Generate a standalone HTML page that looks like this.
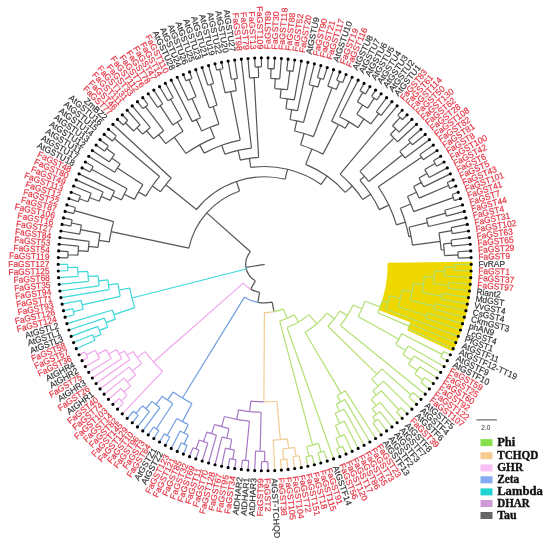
<!DOCTYPE html>
<html><head><meta charset="utf-8"><style>html,body{margin:0;padding:0;background:#fff}svg{display:block}</style></head>
<body>
<svg width="550" height="546" viewBox="0 0 550 546">
<rect width="550" height="546" fill="#fff"/>
<path d="M378.9 309.98A123 123 0 0 0 387.69 262.8L472.18 261.76A207.5 207.5 0 0 1 453.03 351.41L407.19 330.21A157 157 0 0 0 410.47 322.6Z" fill="#eed800"/>
<path fill="none" stroke="#555555" stroke-width="1.2" d="M264.7 264.3L245.96 267.43M245.96 267.43A19 19 0 0 1 250.49 251.69M250.49 251.69L206.72 212.87M206.72 212.87A77.5 77.5 0 0 0 188.89 248.18M188.89 248.18L111.13 231.65M111.13 231.65A157 157 0 0 0 109.32 241.81M109.32 241.81L98.93 240.31M98.93 240.31A167.5 167.5 0 0 0 98.06 247.38M98.06 247.38L88.61 246.42M88.61 246.42A177 177 0 0 0 88.17 251.41M88.17 251.41L78.2 250.68M78.2 250.68A187 187 0 0 0 77.92 255.22M77.92 255.22L67.93 254.73M67.93 254.73A197 197 0 0 0 67.8 257.92M67.8 257.92L58.31 257.61M67.93 254.73A197 197 0 0 1 68.11 251.55M68.11 251.55L58.63 250.93M78.2 250.68A187 187 0 0 1 78.58 246.16M78.58 246.16L59.17 244.27M88.61 246.42A177 177 0 0 1 89.18 241.43M89.18 241.43L59.93 237.62M98.93 240.31A167.5 167.5 0 0 1 100.1 233.29M100.1 233.29L80.54 229.6M80.54 229.6A187.4 187.4 0 0 0 79.75 234.09M79.75 234.09L60.9 231.01M80.54 229.6A187.4 187.4 0 0 1 81.44 225.14M81.44 225.14L71.46 223.01M71.46 223.01A197.6 197.6 0 0 0 70.82 226.14M70.82 226.14L62.09 224.42M71.46 223.01A197.6 197.6 0 0 1 72.16 219.88M72.16 219.88L63.48 217.88M111.13 231.65A157 157 0 0 1 113.61 221.62M113.61 221.62L74.54 210.59M74.54 210.59A197.6 197.6 0 0 0 73.7 213.67M73.7 213.67L65.09 211.39M74.54 210.59A197.6 197.6 0 0 1 75.44 207.51M75.44 207.51L66.91 204.96M206.72 212.87A77.5 77.5 0 0 1 239.66 190.96M239.66 190.96L236.43 181.49M236.43 181.49A87.5 87.5 0 0 0 196.48 209.5M196.48 209.5L165.69 184.77M165.69 184.77A127 127 0 0 0 160.5 191.7M160.5 191.7L152.29 185.98M152.29 185.98A137 137 0 0 0 145.86 196.14M145.86 196.14L138.49 191.91M138.49 191.91A145.5 145.5 0 0 0 134.49 199.38M134.49 199.38L124.2 194.24M124.2 194.24A157 157 0 0 0 121.54 199.84M121.54 199.84L112.42 195.74M112.42 195.74A167 167 0 0 0 110.41 200.39M110.41 200.39L101.17 196.57M101.17 196.57A177 177 0 0 0 99.32 201.23M99.32 201.23L89.51 197.48M89.51 197.48A187.5 187.5 0 0 0 87.94 201.76M87.94 201.76L79.36 198.72M79.36 198.72A196.6 196.6 0 0 0 78.32 201.73M78.32 201.73L68.94 198.58M79.36 198.72A196.6 196.6 0 0 1 80.45 195.73M80.45 195.73L71.17 192.28M89.51 197.48A187.5 187.5 0 0 1 91.18 193.25M91.18 193.25L73.6 186.05M101.17 196.57A177 177 0 0 1 103.16 191.96M103.16 191.96L76.23 179.9M112.42 195.74A167 167 0 0 1 114.58 191.15M114.58 191.15L79.07 173.84M124.2 194.24A157 157 0 0 1 127.07 188.75M127.07 188.75L91.57 169.27M91.57 169.27A197.5 197.5 0 0 0 90.05 172.08M90.05 172.08L82.09 167.88M91.57 169.27A197.5 197.5 0 0 1 93.13 166.47M93.13 166.47L85.31 162.02M138.49 191.91A145.5 145.5 0 0 1 142.91 184.69M142.91 184.69L117.38 168.01M117.38 168.01A176 176 0 0 0 114.71 172.22M114.71 172.22L88.72 156.26M117.38 168.01A176 176 0 0 1 120.17 163.87M120.17 163.87L111.95 158.16M111.95 158.16A186 186 0 0 0 109.42 161.9M109.42 161.9L92.31 150.62M111.95 158.16A186 186 0 0 1 114.58 154.49M114.58 154.49L106.51 148.58M106.51 148.58A196 196 0 0 0 104.65 151.16M104.65 151.16L96.08 145.1M106.51 148.58A196 196 0 0 1 108.4 146.03M108.4 146.03L100.03 139.7M152.29 185.98A137 137 0 0 1 159.59 176.43M159.59 176.43L114.33 138.58M114.33 138.58A196 196 0 0 0 112.31 141.04M112.31 141.04L104.15 134.43M114.33 138.58A196 196 0 0 1 116.38 136.17M116.38 136.17L108.44 129.3M165.69 184.77A127 127 0 0 1 171.34 178.21M171.34 178.21L112.89 124.31M236.43 181.49A87.5 87.5 0 0 1 285.16 179.23M285.16 179.23L287.57 169.21M287.57 169.21A97.8 97.8 0 0 0 250.74 167.5M250.74 167.5L249.42 158.4M249.42 158.4A107 107 0 0 0 240.32 160.11M240.32 160.11L238.04 150.38M238.04 150.38A117 117 0 0 0 224.98 154.25M224.98 154.25L221.72 145.22M221.72 145.22A126.6 126.6 0 0 0 204.18 153.1M204.18 153.1L199.68 144.85M199.68 144.85A136 136 0 0 0 185.86 153.49M185.86 153.49L174.26 137.19M174.26 137.19A156 156 0 0 0 165.86 143.61M165.86 143.61L158.57 134.71M158.57 134.71A167.5 167.5 0 0 0 153.67 138.89M153.67 138.89L146.44 130.73M146.44 130.73A178.4 178.4 0 0 0 142.7 134.13M142.7 134.13L136.82 127.86M136.82 127.86A187 187 0 0 0 133.55 131M133.55 131L125.41 122.74M125.41 122.74A198.6 198.6 0 0 0 123.14 125.01M123.14 125.01L117.5 119.47M125.41 122.74A198.6 198.6 0 0 1 127.72 120.5M127.72 120.5L122.27 114.78M136.82 127.86A187 187 0 0 1 140.17 124.79M140.17 124.79L127.19 110.25M146.44 130.73A178.4 178.4 0 0 1 150.27 127.43M150.27 127.43L132.25 105.87M158.57 134.71A167.5 167.5 0 0 1 163.63 130.73M163.63 130.73L145.41 106.65M145.41 106.65A197.7 197.7 0 0 0 142.87 108.6M142.87 108.6L137.45 101.67M145.41 106.65A197.7 197.7 0 0 1 147.98 104.73M147.98 104.73L142.78 97.63M174.26 137.19A156 156 0 0 1 183.08 131.35M183.08 131.35L177.33 121.98M177.33 121.98A167 167 0 0 0 172.76 124.88M172.76 124.88L160.1 105.68M160.1 105.68A190 190 0 0 0 157.55 107.4M157.55 107.4L148.24 93.77M160.1 105.68A190 190 0 0 1 162.69 104.01M162.69 104.01L153.83 90.09M177.33 121.98A167 167 0 0 1 181.98 119.23M181.98 119.23L170.59 99.24M170.59 99.24A190 190 0 0 0 167.93 100.79M167.93 100.79L159.53 86.59M170.59 99.24A190 190 0 0 1 173.27 97.74M173.27 97.74L165.34 83.28M199.68 144.85A136 136 0 0 1 214.44 137.93M214.44 137.93L210.19 127.24M210.19 127.24A147.5 147.5 0 0 0 201.7 130.93M201.7 130.93L196.36 119.63M196.36 119.63A160 160 0 0 0 192.29 121.62M192.29 121.62L171.25 80.16M196.36 119.63A160 160 0 0 1 200.49 117.75M200.49 117.75L192.06 98.51M192.06 98.51A181 181 0 0 0 188.06 100.33M188.06 100.33L177.26 77.23M192.06 98.51A181 181 0 0 1 196.11 96.8M196.11 96.8L189.1 79.68M189.1 79.68A199.5 199.5 0 0 0 186.12 80.93M186.12 80.93L183.36 74.49M189.1 79.68A199.5 199.5 0 0 1 192.1 78.48M192.1 78.48L189.55 71.96M210.19 127.24A147.5 147.5 0 0 1 218.89 124.09M218.89 124.09L213.15 106.51M213.15 106.51A166 166 0 0 0 209.33 107.81M209.33 107.81L195.82 69.63M213.15 106.51A166 166 0 0 1 217 105.3M217 105.3L210.67 84.23M210.67 84.23A188 188 0 0 0 207.76 85.13M207.76 85.13L202.16 67.5M210.67 84.23A188 188 0 0 1 213.6 83.38M213.6 83.38L208.57 65.58M221.72 145.22A126.6 126.6 0 0 1 240.25 140.08M240.25 140.08L230.71 91.61M230.71 91.61A176 176 0 0 0 225.14 92.8M225.14 92.8L219.74 69.42M219.74 69.42A200 200 0 0 0 216.6 70.17M216.6 70.17L215.03 63.86M219.74 69.42A200 200 0 0 1 222.91 68.72M222.91 68.72L221.55 62.36M230.71 91.61A176 176 0 0 1 236.32 90.6M236.32 90.6L234.39 78.76M234.39 78.76A188 188 0 0 0 231.39 79.27M231.39 79.27L228.11 61.07M234.39 78.76A188 188 0 0 1 237.4 78.29M237.4 78.29L234.71 59.99M238.04 150.38A117 117 0 0 1 251.47 148.05M251.47 148.05L241.34 59.13M249.42 158.4A107 107 0 0 1 258.64 157.47M258.64 157.47L254.11 77.6M254.11 77.6A187 187 0 0 0 249.58 77.91M249.58 77.91L248 58.48M254.11 77.6A187 187 0 0 1 258.64 77.4M258.64 77.4L258.3 66.9M258.3 66.9A197.5 197.5 0 0 0 255.11 67.03M255.11 67.03L254.67 58.04M258.3 66.9A197.5 197.5 0 0 1 261.5 66.83M261.5 66.83L261.36 57.83M287.57 169.21A97.8 97.8 0 0 1 321.15 184.44M321.15 184.44L327.04 176.11M327.04 176.11A108 108 0 0 0 305.66 164.37M305.66 164.37L311.96 149.01M311.96 149.01A124.6 124.6 0 0 0 300.6 144.98M300.6 144.98L304.06 133.49M304.06 133.49A136.6 136.6 0 0 0 294.53 131M294.53 131L296.8 120.85M296.8 120.85A147 147 0 0 0 290.01 119.5M290.01 119.5L291.74 109.65M291.74 109.65A157 157 0 0 0 285.93 108.74M285.93 108.74L287.28 98.83M287.28 98.83A167 167 0 0 0 280.23 98.02M280.23 98.02L281.06 89.06M281.06 89.06A176 176 0 0 0 274.67 88.58M274.67 88.58L275.24 78.6M275.24 78.6A186 186 0 0 0 270.72 78.4M270.72 78.4L271.04 68.7M271.04 68.7A195.7 195.7 0 0 0 267.87 68.63M267.87 68.63L268.04 57.83M271.04 68.7A195.7 195.7 0 0 1 274.2 68.83M274.2 68.83L274.73 58.04M275.24 78.6A186 186 0 0 1 279.74 78.91M279.74 78.91L281.4 58.48M281.06 89.06A176 176 0 0 1 287.44 89.77M287.44 89.77L289.89 70.93M289.89 70.93A195 195 0 0 0 286.76 70.55M286.76 70.55L288.06 59.13M289.89 70.93A195 195 0 0 1 293.02 71.37M293.02 71.37L294.69 59.99M287.28 98.83A167 167 0 0 1 294.29 99.94M294.29 99.94L301.29 61.07M291.74 109.65A157 157 0 0 1 297.51 110.77M297.51 110.77L307.85 62.36M296.8 120.85A147 147 0 0 1 303.51 122.52M303.51 122.52L313.55 85.86M313.55 85.86A185 185 0 0 0 309.2 84.73M309.2 84.73L314.37 63.86M313.55 85.86A185 185 0 0 1 317.86 87.1M317.86 87.1L320.45 78.48M320.45 78.48A194 194 0 0 0 317.44 77.61M317.44 77.61L320.83 65.58M320.45 78.48A194 194 0 0 1 323.45 79.41M323.45 79.41L327.24 67.5M304.06 133.49A136.6 136.6 0 0 1 313.38 136.67M313.38 136.67L332.05 87.71M332.05 87.71A189 189 0 0 0 327.74 86.12M327.74 86.12L333.58 69.63M332.05 87.71A189 189 0 0 1 336.32 89.4M336.32 89.4L339.58 81.44M339.58 81.44A197.6 197.6 0 0 0 336.61 80.25M336.61 80.25L339.85 71.96M339.58 81.44A197.6 197.6 0 0 1 342.53 82.67M342.53 82.67L346.04 74.49M311.96 149.01A124.6 124.6 0 0 1 322.88 154.12M322.88 154.12L338.47 124.58M338.47 124.58A158 158 0 0 0 331.6 121.16M331.6 121.16L352.14 77.23M338.47 124.58A158 158 0 0 1 345.17 128.33M345.17 128.33L348.99 121.87M348.99 121.87A165.5 165.5 0 0 0 339.6 116.72M339.6 116.72L358.15 80.16M348.99 121.87A165.5 165.5 0 0 1 358.03 127.63M358.03 127.63L363.96 118.96M363.96 118.96A176 176 0 0 0 356.78 114.31M356.78 114.31L362.54 104.94M362.54 104.94A187 187 0 0 0 357.32 101.85M357.32 101.85L362.77 92.3M362.77 92.3A198 198 0 0 0 359.97 90.73M359.97 90.73L364.06 83.28M362.77 92.3A198 198 0 0 1 365.55 93.91M365.55 93.91L369.87 86.59M362.54 104.94A187 187 0 0 1 367.65 108.19M367.65 108.19L374.25 98.17M374.25 98.17A199 199 0 0 0 371.55 96.42M371.55 96.42L375.57 90.09M374.25 98.17A199 199 0 0 1 376.93 99.96M376.93 99.96L381.16 93.77M363.96 118.96A176 176 0 0 1 370.9 123.95M370.9 123.95L378.74 113.58M378.74 113.58A189 189 0 0 0 376.29 111.76M376.29 111.76L386.62 97.63M378.74 113.58A189 189 0 0 1 381.17 115.45M381.17 115.45L391.95 101.67M327.04 176.11A108 108 0 0 1 345.24 192.35M345.24 192.35L352.32 186.02M352.32 186.02A117.5 117.5 0 0 0 340.07 174.15M340.07 174.15L397.15 105.87M352.32 186.02A117.5 117.5 0 0 1 362.73 199.53M362.73 199.53L370.66 194.29M370.66 194.29A127 127 0 0 0 359.96 180.31M359.96 180.31L364.46 176.34M364.46 176.34A133 133 0 0 0 359.88 171.4M359.88 171.4L394.02 138.09M394.02 138.09A180.7 180.7 0 0 0 390.39 134.47M390.39 134.47L395.81 128.87M395.81 128.87A188.5 188.5 0 0 0 392.49 125.72M392.49 125.72L400.01 117.56M400.01 117.56A199.6 199.6 0 0 0 397.62 115.39M397.62 115.39L402.21 110.25M400.01 117.56A199.6 199.6 0 0 1 402.37 119.78M402.37 119.78L407.13 114.78M395.81 128.87A188.5 188.5 0 0 1 399.06 132.09M399.06 132.09L411.9 119.47M394.02 138.09A180.7 180.7 0 0 1 397.54 141.8M397.54 141.8L416.51 124.31M364.46 176.34A133 133 0 0 1 368.78 181.5M368.78 181.5L402.43 154.73M402.43 154.73A176 176 0 0 0 399.73 151.41M399.73 151.41L410.47 142.43M410.47 142.43A190 190 0 0 0 408.48 140.09M408.48 140.09L420.96 129.3M410.47 142.43A190 190 0 0 1 412.42 144.81M412.42 144.81L425.25 134.43M402.43 154.73A176 176 0 0 1 405.05 158.1M405.05 158.1L429.37 139.7M370.66 194.29A127 127 0 0 1 379.33 209.62M379.33 209.62L388.8 205.1M388.8 205.1A137.5 137.5 0 0 0 378.25 186.76M378.25 186.76L421.6 157.15M421.6 157.15A190 190 0 0 0 419.85 154.62M419.85 154.62L433.32 145.1M421.6 157.15A190 190 0 0 1 423.32 159.7M423.32 159.7L437.09 150.62M388.8 205.1A137.5 137.5 0 0 1 396.42 224.85M396.42 224.85L405.33 222.18M405.33 222.18A146.8 146.8 0 0 0 400.38 208.26M400.38 208.26L410.73 203.98M410.73 203.98A158 158 0 0 0 407.43 196.53M407.43 196.53L416.46 192.24M416.46 192.24A168 168 0 0 0 413.58 186.46M413.58 186.46L421.38 182.38M421.38 182.38A176.8 176.8 0 0 1 423.63 186.85M423.63 186.85L450.33 173.84M421.38 182.38A176.8 176.8 0 0 0 418.99 177.97M418.99 177.97L427.02 173.48M427.02 173.48A186 186 0 0 1 429.18 177.45M429.18 177.45L447.31 167.88M427.02 173.48A186 186 0 0 0 424.77 169.57M424.77 169.57L435.09 163.45M435.09 163.45A198 198 0 0 0 433.44 160.71M433.44 160.71L440.68 156.26M435.09 163.45A198 198 0 0 1 436.7 166.23M436.7 166.23L444.09 162.02M416.46 192.24A168 168 0 0 1 419.12 198.13M419.12 198.13L448.53 185.52M448.53 185.52A200 200 0 0 0 447.23 182.56M447.23 182.56L453.17 179.9M448.53 185.52A200 200 0 0 1 449.78 188.51M449.78 188.51L455.8 186.05M410.73 203.98A158 158 0 0 1 413.65 211.6M413.65 211.6L453.25 197.59M453.25 197.59A200 200 0 0 0 452.14 194.55M452.14 194.55L458.23 192.28M453.25 197.59A200 200 0 0 1 454.3 200.65M454.3 200.65L460.46 198.58M405.33 222.18A146.8 146.8 0 0 1 408.85 236.54M408.85 236.54L411.01 236.12M411.01 236.12A149 149 0 0 0 409.03 227.29M409.03 227.29L427.44 222.57M427.44 222.57A168 168 0 0 0 426.37 218.63M426.37 218.63L445.62 213.2M445.62 213.2A188 188 0 0 0 444.77 210.27M444.77 210.27L462.49 204.96M445.62 213.2A188 188 0 0 1 446.42 216.13M446.42 216.13L464.31 211.39M427.44 222.57A168 168 0 0 1 428.4 226.54M428.4 226.54L465.92 217.88M411.01 236.12A149 149 0 0 1 412.45 245.05M412.45 245.05L440.22 241.43M440.22 241.43A177 177 0 0 0 438.9 232.94M438.9 232.94L451.69 230.63M451.69 230.63A190 190 0 0 0 451.12 227.61M451.12 227.61L467.31 224.42M451.69 230.63A190 190 0 0 1 452.21 233.67M452.21 233.67L468.5 231.01M440.22 241.43A177 177 0 0 1 441.12 249.98M441.12 249.98L444.11 249.74M444.11 249.74A180 180 0 0 0 443.54 243.94M443.54 243.94L451.49 243.03M451.49 243.03A188 188 0 0 0 451.12 240.01M451.12 240.01L469.47 237.62M451.49 243.03A188 188 0 0 1 451.81 246.06M451.81 246.06L470.23 244.27M444.11 249.74A180 180 0 0 1 444.49 255.56M444.49 255.56L458.07 254.9M458.07 254.9A193.6 193.6 0 0 0 457.89 251.77M457.89 251.77L470.77 250.93M458.07 254.9A193.6 193.6 0 0 1 458.2 258.03M458.2 258.03L471.09 257.61M245.96 267.43A19 19 0 0 0 255.35 280.84M255.35 280.84L250.67 289.11M250.67 289.11A28.5 28.5 0 0 0 259.64 292.35M259.64 292.35L257.84 302.29M257.84 302.29A38.6 38.6 0 0 0 272.15 302.17M272.15 302.17L274.02 311.69"/>
<path fill="none" stroke="#3fd8d8" stroke-width="1.2" d="M245.96 267.43A19 19 0 0 0 246.28 268.97M246.28 268.97L131.9 297.96M131.9 297.96A137 137 0 0 1 129.78 288.1M129.78 288.1L118.95 290.01M118.95 290.01A148 148 0 0 1 117.96 283.57M117.96 283.57L108.54 284.81M108.54 284.81A157.5 157.5 0 0 0 109.26 289.69M109.26 289.69L60.9 297.59M108.54 284.81A157.5 157.5 0 0 1 107.97 279.9M107.97 279.9L98.52 280.84M98.52 280.84A167 167 0 0 0 99.1 285.87M99.1 285.87L59.93 290.98M98.52 280.84A167 167 0 0 1 98.1 275.78M98.1 275.78L88.12 276.47M88.12 276.47A177 177 0 0 0 88.53 281.47M88.53 281.47L59.17 284.33M88.12 276.47A177 177 0 0 1 87.85 271.46M87.85 271.46L77.85 271.87M77.85 271.87A187 187 0 0 0 78.09 276.4M78.09 276.4L58.63 277.67M77.85 271.87A187 187 0 0 1 77.72 267.33M77.72 267.33L67.73 267.49M67.73 267.49A197 197 0 0 0 67.8 270.68M67.8 270.68L58.31 270.99M67.73 267.49A197 197 0 0 1 67.7 264.3M67.7 264.3L58.2 264.3M118.95 290.01A148 148 0 0 0 120.22 296.4M120.22 296.4L82.15 304.86M82.15 304.86A187 187 0 0 1 81.22 300.41M81.22 300.41L62.09 304.18M82.15 304.86A187 187 0 0 0 83.19 309.28M83.19 309.28L73.48 311.68M73.48 311.68A197 197 0 0 0 74.28 314.77M74.28 314.77L65.09 317.21M73.48 311.68A197 197 0 0 1 72.74 308.58M72.74 308.58L63.48 310.72M131.9 297.96A137 137 0 0 0 134.73 307.64M134.73 307.64L113.86 314.6M113.86 314.6A159 159 0 0 1 112.41 309.99M112.41 309.99L66.91 323.64M113.86 314.6A159 159 0 0 0 115.46 319.15M115.46 319.15L106.07 322.6M106.07 322.6A169 169 0 0 1 104.49 318.08M104.49 318.08L68.94 330.02M106.07 322.6A169 169 0 0 0 107.79 327.07M107.79 327.07L99.43 330.42M99.43 330.42A178 178 0 0 1 97.88 326.38M97.88 326.38L71.17 336.32M99.43 330.42A178 178 0 0 0 101.09 334.41M101.09 334.41L93.74 337.56M93.74 337.56A186 186 0 0 1 92.57 334.78M92.57 334.78L73.6 342.55M93.74 337.56A186 186 0 0 0 94.94 340.32M94.94 340.32L76.23 348.7"/>
<path fill="none" stroke="#f2a6ee" stroke-width="1.2" d="M250.67 289.11A28.5 28.5 0 0 1 243.28 283.1M243.28 283.1L153.47 361.93M153.47 361.93A148 148 0 0 0 162.62 371.46M162.62 371.46L122.27 413.82M153.47 361.93A148 148 0 0 1 145.2 351.62M145.2 351.62L137.13 357.52M137.13 357.52A158 158 0 0 0 141.66 363.42M141.66 363.42L132.31 370.95M132.31 370.95A170 170 0 0 1 129.13 366.88M129.13 366.88L100.03 388.9M132.31 370.95A170 170 0 0 0 135.61 374.92M135.61 374.92L127.26 382.07M127.26 382.07A181 181 0 0 1 123.98 378.13M123.98 378.13L104.15 394.17M127.26 382.07A181 181 0 0 0 130.65 385.92M130.65 385.92L123.98 391.97M123.98 391.97A190 190 0 0 1 120.92 388.51M120.92 388.51L108.44 399.3M123.98 391.97A190 190 0 0 0 127.13 395.35M127.13 395.35L121.33 400.87M121.33 400.87A198 198 0 0 1 119.14 398.53M119.14 398.53L112.89 404.29M121.33 400.87A198 198 0 0 0 123.56 403.17M123.56 403.17L117.5 409.13M137.13 357.52A158 158 0 0 1 132.89 351.41M132.89 351.41L127.05 355.27M127.05 355.27A165 165 0 0 0 129.97 359.55M129.97 359.55L96.08 383.5M127.05 355.27A165 165 0 0 1 124.26 350.91M124.26 350.91L119.15 354.06M119.15 354.06A171 171 0 0 0 121.94 358.44M121.94 358.44L92.31 377.98M119.15 354.06A171 171 0 0 1 116.49 349.6M116.49 349.6L108.69 354.09M108.69 354.09A180 180 0 0 0 111.3 358.47M111.3 358.47L88.72 372.34M108.69 354.09A180 180 0 0 1 106.21 349.63M106.21 349.63L97.41 354.37M97.41 354.37A190 190 0 0 0 99.64 358.41M99.64 358.41L85.31 366.58M97.41 354.37A190 190 0 0 1 95.27 350.28M95.27 350.28L86.35 354.81M86.35 354.81A200 200 0 0 0 87.84 357.69M87.84 357.69L82.09 360.72M86.35 354.81A200 200 0 0 1 84.91 351.91M84.91 351.91L79.07 354.76"/>
<path fill="none" stroke="#6f9de0" stroke-width="1.2" d="M257.84 302.29A38.6 38.6 0 0 1 244.47 297.18M244.47 297.18L182.42 398.01M182.42 398.01A157 157 0 0 0 191.96 403.43M191.96 403.43L182.46 421.6M182.46 421.6A177.5 177.5 0 0 1 176.78 418.5M176.78 418.5L167.12 435.44M167.12 435.44A197 197 0 0 0 169.91 436.99M169.91 436.99L165.34 445.32M167.12 435.44A197 197 0 0 1 164.36 433.83M164.36 433.83L159.53 442.01M182.46 421.6A177.5 177.5 0 0 0 188.24 424.49M188.24 424.49L184.15 433.06M184.15 433.06A187 187 0 0 1 180.07 431.06M180.07 431.06L171.25 448.44M184.15 433.06A187 187 0 0 0 188.27 434.97M188.27 434.97L184.18 444.1M184.18 444.1A197 197 0 0 0 187.11 445.38M187.11 445.38L183.36 454.11M184.18 444.1A197 197 0 0 1 181.28 442.77M181.28 442.77L177.26 451.37M182.42 398.01A157 157 0 0 1 173.29 391.95M173.29 391.95L167.47 400.08M167.47 400.08A167 167 0 0 1 162.32 396.24M162.32 396.24L155.89 404.53M155.89 404.53A177.5 177.5 0 0 0 159.9 407.56M159.9 407.56L142.78 430.97M155.89 404.53A177.5 177.5 0 0 1 151.96 401.4M151.96 401.4L145.92 408.73M145.92 408.73A187 187 0 0 0 149.47 411.58M149.47 411.58L137.45 426.93M145.92 408.73A187 187 0 0 1 142.45 405.81M142.45 405.81L135.91 413.37M135.91 413.37A197 197 0 0 0 138.34 415.44M138.34 415.44L132.25 422.73M135.91 413.37A197 197 0 0 1 133.51 411.27M133.51 411.27L127.19 418.35M167.47 400.08A167 167 0 0 0 172.76 403.72M172.76 403.72L156.25 428.76M156.25 428.76A197 197 0 0 0 158.93 430.5M158.93 430.5L153.83 438.51M156.25 428.76A197 197 0 0 1 153.6 426.98M153.6 426.98L148.24 434.83"/>
<path fill="none" stroke="#f0cc94" stroke-width="1.2" d="M274.02 311.69A48.3 48.3 0 0 1 264.41 312.6M264.41 312.6L263.87 401.8M263.87 401.8A137.5 137.5 0 0 0 276.93 401.25M276.93 401.25L280.35 439.6M280.35 439.6A176 176 0 0 1 273.25 440.09M273.25 440.09L274.73 470.56M280.35 439.6A176 176 0 0 0 287.44 438.83M287.44 438.83L288.66 448.25M288.66 448.25A185.5 185.5 0 0 1 282.7 448.93M282.7 448.93L283.71 459.38M283.71 459.38A196 196 0 0 0 286.87 459.04M286.87 459.04L288.06 469.47M283.71 459.38A196 196 0 0 1 280.55 459.66M280.55 459.66L281.4 470.12M288.66 448.25A185.5 185.5 0 0 0 294.61 447.37M294.61 447.37L296.06 456.26M296.06 456.26A194.5 194.5 0 0 0 299.16 455.72M299.16 455.72L301.29 467.53M296.06 456.26A194.5 194.5 0 0 1 292.95 456.74M292.95 456.74L294.69 468.61"/>
<path fill="none" stroke="#a678c6" stroke-width="1.2" d="M263.87 401.8A137.5 137.5 0 0 1 250.81 401.1M250.81 401.1L249.75 411.54M249.75 411.54A148 148 0 0 0 261.11 412.26M261.11 412.26L260.16 451.24M260.16 451.24A187 187 0 0 1 255.62 451.08M255.62 451.08L254.67 470.56M260.16 451.24A187 187 0 0 0 264.7 451.3M264.7 451.3L264.7 461.7M264.7 461.7A197.4 197.4 0 0 0 267.9 461.67M267.9 461.67L268.04 470.77M264.7 461.7A197.4 197.4 0 0 1 261.5 461.67M261.5 461.67L261.36 470.77M249.75 411.54A148 148 0 0 1 238.48 409.96M238.48 409.96L236.79 419.31M236.79 419.31A157.5 157.5 0 0 1 224.35 416.54M224.35 416.54L221.66 426.69M221.66 426.69A168 168 0 0 0 228.93 428.45M228.93 428.45L226.8 438.22M226.8 438.22A178 178 0 0 1 221.89 437.07M221.89 437.07L215.03 464.74M226.8 438.22A178 178 0 0 0 231.74 439.22M231.74 439.22L229.89 449.05M229.89 449.05A188 188 0 0 0 234.39 449.84M234.39 449.84L232.87 459.12M232.87 459.12A197.4 197.4 0 0 0 236.03 459.61M236.03 459.61L234.71 468.61M232.87 459.12A197.4 197.4 0 0 1 229.72 458.58M229.72 458.58L228.11 467.53M229.89 449.05A188 188 0 0 1 225.41 448.15M225.41 448.15L221.55 466.24M221.66 426.69A168 168 0 0 1 214.47 424.62M214.47 424.62L211.63 433.68M211.63 433.68A177.5 177.5 0 0 0 216.45 435.12M216.45 435.12L208.57 463.02M211.63 433.68A177.5 177.5 0 0 1 206.85 432.11M206.85 432.11L203.59 441.56M203.59 441.56A187.5 187.5 0 0 0 207.92 442.99M207.92 442.99L202.16 461.1M203.59 441.56A187.5 187.5 0 0 1 199.3 440.03M199.3 440.03L195.99 448.93M195.99 448.93A197 197 0 0 0 198.99 450.02M198.99 450.02L195.82 458.97M195.99 448.93A197 197 0 0 1 193.01 447.79M193.01 447.79L189.55 456.64M236.79 419.31A157.5 157.5 0 0 0 249.42 421.06M249.42 421.06L245.59 460.37M245.59 460.37A197 197 0 0 0 248.77 460.65M248.77 460.65L248 470.12M245.59 460.37A197 197 0 0 1 242.42 460.04M242.42 460.04L241.34 469.47"/>
<path fill="none" stroke="#b3e074" stroke-width="1.2" d="M274.02 311.69A48.3 48.3 0 0 0 283.27 308.89M283.27 308.89L287.19 318.3M287.19 318.3A58.5 58.5 0 0 1 279.69 320.85M279.69 320.85L312.61 445.06M312.61 445.06A187 187 0 0 1 306.73 446.51M306.73 446.51L308.98 456.26M308.98 456.26A197 197 0 0 0 312.08 455.52M312.08 455.52L314.37 464.74M308.98 456.26A197 197 0 0 1 305.87 456.95M305.87 456.95L307.85 466.24M312.61 445.06A187 187 0 0 0 318.44 443.41M318.44 443.41L321.03 452.03M321.03 452.03A196 196 0 0 0 324.06 451.1M324.06 451.1L327.24 461.1M321.03 452.03A196 196 0 0 1 317.98 452.92M317.98 452.92L320.83 463.02M287.19 318.3A58.5 58.5 0 0 0 294.28 314.77M294.28 314.77L298.58 322.1M298.58 322.1A67 67 0 0 1 287.05 327.46M287.05 327.46L333.58 458.97M298.58 322.1A67 67 0 0 0 308.89 314.66M308.89 314.66L316.81 323.68M316.81 323.68A79 79 0 0 1 304.97 332.27M304.97 332.27L341.16 393.35M341.16 393.35A150 150 0 0 0 345.24 390.84M345.24 390.84L375.57 438.51M341.16 393.35A150 150 0 0 1 337.01 395.72M337.01 395.72L340.39 401.85M340.39 401.85A157 157 0 0 0 344.66 399.41M344.66 399.41L369.87 442.01M340.39 401.85A157 157 0 0 1 336.03 404.16M336.03 404.16L339.67 411.29M339.67 411.29A165 165 0 0 0 344.1 408.94M344.1 408.94L364.06 445.32M339.67 411.29A165 165 0 0 1 335.17 413.49M335.17 413.49L339.87 423.44M339.87 423.44A176 176 0 0 0 344.35 421.25M344.35 421.25L358.15 448.44M339.87 423.44A176 176 0 0 1 335.33 425.51M335.33 425.51L340.15 436.5M340.15 436.5A188 188 0 0 0 344.31 434.61M344.31 434.61L352.14 451.37M340.15 436.5A188 188 0 0 1 335.94 438.28M335.94 438.28L339.73 447.53M339.73 447.53A198 198 0 0 0 342.69 446.29M342.69 446.29L346.04 454.11M339.73 447.53A198 198 0 0 1 336.75 448.72M336.75 448.72L339.85 456.64M316.81 323.68A79 79 0 0 0 326.86 313.06M326.86 313.06L334.33 318.92M334.33 318.92A88.5 88.5 0 0 1 327.94 326.21M327.94 326.21L376.89 374.13M376.89 374.13A157 157 0 0 0 381.83 368.85M381.83 368.85L410.92 394.82M410.92 394.82A196 196 0 0 0 413.02 392.43M413.02 392.43L420.96 399.3M410.92 394.82A196 196 0 0 1 408.79 397.17M408.79 397.17L416.51 404.29M376.89 374.13A157 157 0 0 1 371.71 379.18M371.71 379.18L378.19 386.13M378.19 386.13A166.5 166.5 0 0 0 383.38 381.08M383.38 381.08L411.9 409.13M378.19 386.13A166.5 166.5 0 0 1 372.78 390.95M372.78 390.95L376.35 395.14M376.35 395.14A172 172 0 0 0 381.3 390.75M381.3 390.75L398.93 409.86M398.93 409.86A198 198 0 0 0 401.27 407.67M401.27 407.67L407.13 413.82M398.93 409.86A198 198 0 0 1 396.55 412.01M396.55 412.01L402.21 418.35M376.35 395.14A172 172 0 0 1 371.24 399.33M371.24 399.33L376.19 405.61M376.19 405.61A180 180 0 0 0 380.15 402.4M380.15 402.4L397.15 422.73M376.19 405.61A180 180 0 0 1 372.15 408.71M372.15 408.71L376.32 414.33M376.32 414.33A187 187 0 0 0 379.93 411.58M379.93 411.58L391.95 426.93M376.32 414.33A187 187 0 0 1 372.65 417M372.65 417L375.53 421.08M375.53 421.08A192 192 0 0 0 378.06 419.26M378.06 419.26L386.62 430.97M375.53 421.08A192 192 0 0 1 372.98 422.85M372.98 422.85L381.16 434.83M334.33 318.92A88.5 88.5 0 0 0 339.89 310.98M339.89 310.98L347.36 315.62M347.36 315.62A97.3 97.3 0 0 1 340.35 325.49M340.35 325.49L425.25 394.17M347.36 315.62A97.3 97.3 0 0 0 353.1 304.96M353.1 304.96L361.91 309.01M361.91 309.01A107 107 0 0 1 358.13 316.45M358.13 316.45L398.82 339.16M398.82 339.16A153.6 153.6 0 0 0 401.67 333.81M401.67 333.81L442.16 354.36M442.16 354.36A199 199 0 0 0 443.59 351.47M443.59 351.47L450.33 354.76M442.16 354.36A199 199 0 0 1 440.67 357.22M440.67 357.22L447.31 360.72M398.82 339.16A153.6 153.6 0 0 1 395.76 344.4M395.76 344.4L405.49 350.34M405.49 350.34A165 165 0 0 0 408.04 346.03M408.04 346.03L444.09 366.58M405.49 350.34A165 165 0 0 1 402.81 354.58M402.81 354.58L411.18 360.05M411.18 360.05A175 175 0 0 0 413.84 355.86M413.84 355.86L440.68 372.34M411.18 360.05A175 175 0 0 1 408.41 364.16M408.41 364.16L417.45 370.44M417.45 370.44A186 186 0 0 0 419.98 366.7M419.98 366.7L437.09 377.98M417.45 370.44A186 186 0 0 1 414.82 374.11M414.82 374.11L422.89 380.02M422.89 380.02A196 196 0 0 0 424.75 377.44M424.75 377.44L433.32 383.5M422.89 380.02A196 196 0 0 1 421 382.57M421 382.57L429.37 388.9M361.91 309.01A107 107 0 0 0 365.1 301.3M365.1 301.3L380.11 306.83M380.11 306.83A123 123 0 0 0 382.16 300.81M382.16 300.81L387.89 302.59M387.89 302.59A129 129 0 0 0 389.8 295.77M389.8 295.77L400.47 298.45M400.47 298.45A140 140 0 0 0 402.31 290.08M402.31 290.08L412.13 291.92M412.13 291.92A150 150 0 0 0 413.48 283.38M413.48 283.38L423.4 284.65M423.4 284.65A160 160 0 0 0 424.23 276.6M424.23 276.6L434.2 277.36M434.2 277.36A170 170 0 0 0 434.56 271.18M434.56 271.18L444.55 271.59M444.55 271.59A180 180 0 0 0 444.68 267.21M444.68 267.21L454.68 267.38M454.68 267.38A190 190 0 0 0 454.7 264.3M454.7 264.3L471.2 264.3M454.68 267.38A190 190 0 0 1 454.6 270.45M454.6 270.45L471.09 270.99M444.55 271.59A180 180 0 0 1 444.32 275.95M444.32 275.95L470.77 277.67M434.2 277.36A170 170 0 0 1 433.61 283.53M433.61 283.53L448.51 285.23M448.51 285.23A185 185 0 0 0 448.83 282.25M448.83 282.25L470.23 284.33M448.51 285.23A185 185 0 0 1 448.15 288.2M448.15 288.2L469.47 290.98M423.4 284.65A160 160 0 0 1 422.17 292.65M422.17 292.65L441.85 296.19M441.85 296.19A180 180 0 0 0 442.35 293.32M442.35 293.32L468.5 297.59M441.85 296.19A180 180 0 0 1 441.31 299.06M441.31 299.06L467.31 304.18M412.13 291.92A150 150 0 0 1 410.3 300.38M410.3 300.38L434.56 306.39M434.56 306.39A175 175 0 0 0 435.22 303.64M435.22 303.64L465.92 310.72M434.56 306.39A175 175 0 0 1 433.86 309.14M433.86 309.14L464.31 317.21M400.47 298.45A140 140 0 0 1 398.13 306.7M398.13 306.7L426.72 315.78M426.72 315.78A170 170 0 0 0 427.53 313.15M427.53 313.15L462.49 323.64M426.72 315.78A170 170 0 0 1 425.86 318.4M425.86 318.4L460.46 330.02M387.89 302.59A129 129 0 0 1 385.6 309.29M385.6 309.29L458.23 336.32M380.11 306.83A123 123 0 0 1 377.76 312.75M377.76 312.75L409.01 326.14M409.01 326.14A157 157 0 0 0 409.99 323.79M409.99 323.79L455.8 342.55M409.01 326.14A157 157 0 0 1 407.99 328.47M407.99 328.47L453.17 348.7"/>
<path fill="#000" d="M469.6 264.3a1.6 1.6 0 1 0 3.2 0a1.6 1.6 0 1 0 -3.2 0M469.49 270.99a1.6 1.6 0 1 0 3.2 0a1.6 1.6 0 1 0 -3.2 0M469.17 277.67a1.6 1.6 0 1 0 3.2 0a1.6 1.6 0 1 0 -3.2 0M468.63 284.33a1.6 1.6 0 1 0 3.2 0a1.6 1.6 0 1 0 -3.2 0M467.87 290.98a1.6 1.6 0 1 0 3.2 0a1.6 1.6 0 1 0 -3.2 0M466.9 297.59a1.6 1.6 0 1 0 3.2 0a1.6 1.6 0 1 0 -3.2 0M465.71 304.18a1.6 1.6 0 1 0 3.2 0a1.6 1.6 0 1 0 -3.2 0M464.32 310.72a1.6 1.6 0 1 0 3.2 0a1.6 1.6 0 1 0 -3.2 0M462.71 317.21a1.6 1.6 0 1 0 3.2 0a1.6 1.6 0 1 0 -3.2 0M460.89 323.64a1.6 1.6 0 1 0 3.2 0a1.6 1.6 0 1 0 -3.2 0M458.86 330.02a1.6 1.6 0 1 0 3.2 0a1.6 1.6 0 1 0 -3.2 0M456.63 336.32a1.6 1.6 0 1 0 3.2 0a1.6 1.6 0 1 0 -3.2 0M454.2 342.55a1.6 1.6 0 1 0 3.2 0a1.6 1.6 0 1 0 -3.2 0M451.57 348.7a1.6 1.6 0 1 0 3.2 0a1.6 1.6 0 1 0 -3.2 0M448.73 354.76a1.6 1.6 0 1 0 3.2 0a1.6 1.6 0 1 0 -3.2 0M445.71 360.72a1.6 1.6 0 1 0 3.2 0a1.6 1.6 0 1 0 -3.2 0M442.49 366.58a1.6 1.6 0 1 0 3.2 0a1.6 1.6 0 1 0 -3.2 0M439.08 372.34a1.6 1.6 0 1 0 3.2 0a1.6 1.6 0 1 0 -3.2 0M435.49 377.98a1.6 1.6 0 1 0 3.2 0a1.6 1.6 0 1 0 -3.2 0M431.72 383.5a1.6 1.6 0 1 0 3.2 0a1.6 1.6 0 1 0 -3.2 0M427.77 388.9a1.6 1.6 0 1 0 3.2 0a1.6 1.6 0 1 0 -3.2 0M423.65 394.17a1.6 1.6 0 1 0 3.2 0a1.6 1.6 0 1 0 -3.2 0M419.36 399.3a1.6 1.6 0 1 0 3.2 0a1.6 1.6 0 1 0 -3.2 0M414.91 404.29a1.6 1.6 0 1 0 3.2 0a1.6 1.6 0 1 0 -3.2 0M410.3 409.13a1.6 1.6 0 1 0 3.2 0a1.6 1.6 0 1 0 -3.2 0M405.53 413.82a1.6 1.6 0 1 0 3.2 0a1.6 1.6 0 1 0 -3.2 0M400.61 418.35a1.6 1.6 0 1 0 3.2 0a1.6 1.6 0 1 0 -3.2 0M395.55 422.73a1.6 1.6 0 1 0 3.2 0a1.6 1.6 0 1 0 -3.2 0M390.35 426.93a1.6 1.6 0 1 0 3.2 0a1.6 1.6 0 1 0 -3.2 0M385.02 430.97a1.6 1.6 0 1 0 3.2 0a1.6 1.6 0 1 0 -3.2 0M379.56 434.83a1.6 1.6 0 1 0 3.2 0a1.6 1.6 0 1 0 -3.2 0M373.97 438.51a1.6 1.6 0 1 0 3.2 0a1.6 1.6 0 1 0 -3.2 0M368.27 442.01a1.6 1.6 0 1 0 3.2 0a1.6 1.6 0 1 0 -3.2 0M362.46 445.32a1.6 1.6 0 1 0 3.2 0a1.6 1.6 0 1 0 -3.2 0M356.55 448.44a1.6 1.6 0 1 0 3.2 0a1.6 1.6 0 1 0 -3.2 0M350.54 451.37a1.6 1.6 0 1 0 3.2 0a1.6 1.6 0 1 0 -3.2 0M344.44 454.11a1.6 1.6 0 1 0 3.2 0a1.6 1.6 0 1 0 -3.2 0M338.25 456.64a1.6 1.6 0 1 0 3.2 0a1.6 1.6 0 1 0 -3.2 0M331.98 458.97a1.6 1.6 0 1 0 3.2 0a1.6 1.6 0 1 0 -3.2 0M325.64 461.1a1.6 1.6 0 1 0 3.2 0a1.6 1.6 0 1 0 -3.2 0M319.23 463.02a1.6 1.6 0 1 0 3.2 0a1.6 1.6 0 1 0 -3.2 0M312.77 464.74a1.6 1.6 0 1 0 3.2 0a1.6 1.6 0 1 0 -3.2 0M306.25 466.24a1.6 1.6 0 1 0 3.2 0a1.6 1.6 0 1 0 -3.2 0M299.69 467.53a1.6 1.6 0 1 0 3.2 0a1.6 1.6 0 1 0 -3.2 0M293.09 468.61a1.6 1.6 0 1 0 3.2 0a1.6 1.6 0 1 0 -3.2 0M286.46 469.47a1.6 1.6 0 1 0 3.2 0a1.6 1.6 0 1 0 -3.2 0M279.8 470.12a1.6 1.6 0 1 0 3.2 0a1.6 1.6 0 1 0 -3.2 0M273.13 470.56a1.6 1.6 0 1 0 3.2 0a1.6 1.6 0 1 0 -3.2 0M266.44 470.77a1.6 1.6 0 1 0 3.2 0a1.6 1.6 0 1 0 -3.2 0M259.76 470.77a1.6 1.6 0 1 0 3.2 0a1.6 1.6 0 1 0 -3.2 0M253.07 470.56a1.6 1.6 0 1 0 3.2 0a1.6 1.6 0 1 0 -3.2 0M246.4 470.12a1.6 1.6 0 1 0 3.2 0a1.6 1.6 0 1 0 -3.2 0M239.74 469.47a1.6 1.6 0 1 0 3.2 0a1.6 1.6 0 1 0 -3.2 0M233.11 468.61a1.6 1.6 0 1 0 3.2 0a1.6 1.6 0 1 0 -3.2 0M226.51 467.53a1.6 1.6 0 1 0 3.2 0a1.6 1.6 0 1 0 -3.2 0M219.95 466.24a1.6 1.6 0 1 0 3.2 0a1.6 1.6 0 1 0 -3.2 0M213.43 464.74a1.6 1.6 0 1 0 3.2 0a1.6 1.6 0 1 0 -3.2 0M206.97 463.02a1.6 1.6 0 1 0 3.2 0a1.6 1.6 0 1 0 -3.2 0M200.56 461.1a1.6 1.6 0 1 0 3.2 0a1.6 1.6 0 1 0 -3.2 0M194.22 458.97a1.6 1.6 0 1 0 3.2 0a1.6 1.6 0 1 0 -3.2 0M187.95 456.64a1.6 1.6 0 1 0 3.2 0a1.6 1.6 0 1 0 -3.2 0M181.76 454.11a1.6 1.6 0 1 0 3.2 0a1.6 1.6 0 1 0 -3.2 0M175.66 451.37a1.6 1.6 0 1 0 3.2 0a1.6 1.6 0 1 0 -3.2 0M169.65 448.44a1.6 1.6 0 1 0 3.2 0a1.6 1.6 0 1 0 -3.2 0M163.74 445.32a1.6 1.6 0 1 0 3.2 0a1.6 1.6 0 1 0 -3.2 0M157.93 442.01a1.6 1.6 0 1 0 3.2 0a1.6 1.6 0 1 0 -3.2 0M152.23 438.51a1.6 1.6 0 1 0 3.2 0a1.6 1.6 0 1 0 -3.2 0M146.64 434.83a1.6 1.6 0 1 0 3.2 0a1.6 1.6 0 1 0 -3.2 0M141.18 430.97a1.6 1.6 0 1 0 3.2 0a1.6 1.6 0 1 0 -3.2 0M135.85 426.93a1.6 1.6 0 1 0 3.2 0a1.6 1.6 0 1 0 -3.2 0M130.65 422.73a1.6 1.6 0 1 0 3.2 0a1.6 1.6 0 1 0 -3.2 0M125.59 418.35a1.6 1.6 0 1 0 3.2 0a1.6 1.6 0 1 0 -3.2 0M120.67 413.82a1.6 1.6 0 1 0 3.2 0a1.6 1.6 0 1 0 -3.2 0M115.9 409.13a1.6 1.6 0 1 0 3.2 0a1.6 1.6 0 1 0 -3.2 0M111.29 404.29a1.6 1.6 0 1 0 3.2 0a1.6 1.6 0 1 0 -3.2 0M106.84 399.3a1.6 1.6 0 1 0 3.2 0a1.6 1.6 0 1 0 -3.2 0M102.55 394.17a1.6 1.6 0 1 0 3.2 0a1.6 1.6 0 1 0 -3.2 0M98.43 388.9a1.6 1.6 0 1 0 3.2 0a1.6 1.6 0 1 0 -3.2 0M94.48 383.5a1.6 1.6 0 1 0 3.2 0a1.6 1.6 0 1 0 -3.2 0M90.71 377.98a1.6 1.6 0 1 0 3.2 0a1.6 1.6 0 1 0 -3.2 0M87.12 372.34a1.6 1.6 0 1 0 3.2 0a1.6 1.6 0 1 0 -3.2 0M83.71 366.58a1.6 1.6 0 1 0 3.2 0a1.6 1.6 0 1 0 -3.2 0M80.49 360.72a1.6 1.6 0 1 0 3.2 0a1.6 1.6 0 1 0 -3.2 0M77.47 354.76a1.6 1.6 0 1 0 3.2 0a1.6 1.6 0 1 0 -3.2 0M74.63 348.7a1.6 1.6 0 1 0 3.2 0a1.6 1.6 0 1 0 -3.2 0M72 342.55a1.6 1.6 0 1 0 3.2 0a1.6 1.6 0 1 0 -3.2 0M69.57 336.32a1.6 1.6 0 1 0 3.2 0a1.6 1.6 0 1 0 -3.2 0M67.34 330.02a1.6 1.6 0 1 0 3.2 0a1.6 1.6 0 1 0 -3.2 0M65.31 323.64a1.6 1.6 0 1 0 3.2 0a1.6 1.6 0 1 0 -3.2 0M63.49 317.21a1.6 1.6 0 1 0 3.2 0a1.6 1.6 0 1 0 -3.2 0M61.88 310.72a1.6 1.6 0 1 0 3.2 0a1.6 1.6 0 1 0 -3.2 0M60.49 304.18a1.6 1.6 0 1 0 3.2 0a1.6 1.6 0 1 0 -3.2 0M59.3 297.59a1.6 1.6 0 1 0 3.2 0a1.6 1.6 0 1 0 -3.2 0M58.33 290.98a1.6 1.6 0 1 0 3.2 0a1.6 1.6 0 1 0 -3.2 0M57.57 284.33a1.6 1.6 0 1 0 3.2 0a1.6 1.6 0 1 0 -3.2 0M57.03 277.67a1.6 1.6 0 1 0 3.2 0a1.6 1.6 0 1 0 -3.2 0M56.71 270.99a1.6 1.6 0 1 0 3.2 0a1.6 1.6 0 1 0 -3.2 0M56.6 264.3a1.6 1.6 0 1 0 3.2 0a1.6 1.6 0 1 0 -3.2 0M56.71 257.61a1.6 1.6 0 1 0 3.2 0a1.6 1.6 0 1 0 -3.2 0M57.03 250.93a1.6 1.6 0 1 0 3.2 0a1.6 1.6 0 1 0 -3.2 0M57.57 244.27a1.6 1.6 0 1 0 3.2 0a1.6 1.6 0 1 0 -3.2 0M58.33 237.62a1.6 1.6 0 1 0 3.2 0a1.6 1.6 0 1 0 -3.2 0M59.3 231.01a1.6 1.6 0 1 0 3.2 0a1.6 1.6 0 1 0 -3.2 0M60.49 224.42a1.6 1.6 0 1 0 3.2 0a1.6 1.6 0 1 0 -3.2 0M61.88 217.88a1.6 1.6 0 1 0 3.2 0a1.6 1.6 0 1 0 -3.2 0M63.49 211.39a1.6 1.6 0 1 0 3.2 0a1.6 1.6 0 1 0 -3.2 0M65.31 204.96a1.6 1.6 0 1 0 3.2 0a1.6 1.6 0 1 0 -3.2 0M67.34 198.58a1.6 1.6 0 1 0 3.2 0a1.6 1.6 0 1 0 -3.2 0M69.57 192.28a1.6 1.6 0 1 0 3.2 0a1.6 1.6 0 1 0 -3.2 0M72 186.05a1.6 1.6 0 1 0 3.2 0a1.6 1.6 0 1 0 -3.2 0M74.63 179.9a1.6 1.6 0 1 0 3.2 0a1.6 1.6 0 1 0 -3.2 0M77.47 173.84a1.6 1.6 0 1 0 3.2 0a1.6 1.6 0 1 0 -3.2 0M80.49 167.88a1.6 1.6 0 1 0 3.2 0a1.6 1.6 0 1 0 -3.2 0M83.71 162.02a1.6 1.6 0 1 0 3.2 0a1.6 1.6 0 1 0 -3.2 0M87.12 156.26a1.6 1.6 0 1 0 3.2 0a1.6 1.6 0 1 0 -3.2 0M90.71 150.62a1.6 1.6 0 1 0 3.2 0a1.6 1.6 0 1 0 -3.2 0M94.48 145.1a1.6 1.6 0 1 0 3.2 0a1.6 1.6 0 1 0 -3.2 0M98.43 139.7a1.6 1.6 0 1 0 3.2 0a1.6 1.6 0 1 0 -3.2 0M102.55 134.43a1.6 1.6 0 1 0 3.2 0a1.6 1.6 0 1 0 -3.2 0M106.84 129.3a1.6 1.6 0 1 0 3.2 0a1.6 1.6 0 1 0 -3.2 0M111.29 124.31a1.6 1.6 0 1 0 3.2 0a1.6 1.6 0 1 0 -3.2 0M115.9 119.47a1.6 1.6 0 1 0 3.2 0a1.6 1.6 0 1 0 -3.2 0M120.67 114.78a1.6 1.6 0 1 0 3.2 0a1.6 1.6 0 1 0 -3.2 0M125.59 110.25a1.6 1.6 0 1 0 3.2 0a1.6 1.6 0 1 0 -3.2 0M130.65 105.87a1.6 1.6 0 1 0 3.2 0a1.6 1.6 0 1 0 -3.2 0M135.85 101.67a1.6 1.6 0 1 0 3.2 0a1.6 1.6 0 1 0 -3.2 0M141.18 97.63a1.6 1.6 0 1 0 3.2 0a1.6 1.6 0 1 0 -3.2 0M146.64 93.77a1.6 1.6 0 1 0 3.2 0a1.6 1.6 0 1 0 -3.2 0M152.23 90.09a1.6 1.6 0 1 0 3.2 0a1.6 1.6 0 1 0 -3.2 0M157.93 86.59a1.6 1.6 0 1 0 3.2 0a1.6 1.6 0 1 0 -3.2 0M163.74 83.28a1.6 1.6 0 1 0 3.2 0a1.6 1.6 0 1 0 -3.2 0M169.65 80.16a1.6 1.6 0 1 0 3.2 0a1.6 1.6 0 1 0 -3.2 0M175.66 77.23a1.6 1.6 0 1 0 3.2 0a1.6 1.6 0 1 0 -3.2 0M181.76 74.49a1.6 1.6 0 1 0 3.2 0a1.6 1.6 0 1 0 -3.2 0M187.95 71.96a1.6 1.6 0 1 0 3.2 0a1.6 1.6 0 1 0 -3.2 0M194.22 69.63a1.6 1.6 0 1 0 3.2 0a1.6 1.6 0 1 0 -3.2 0M200.56 67.5a1.6 1.6 0 1 0 3.2 0a1.6 1.6 0 1 0 -3.2 0M206.97 65.58a1.6 1.6 0 1 0 3.2 0a1.6 1.6 0 1 0 -3.2 0M213.43 63.86a1.6 1.6 0 1 0 3.2 0a1.6 1.6 0 1 0 -3.2 0M219.95 62.36a1.6 1.6 0 1 0 3.2 0a1.6 1.6 0 1 0 -3.2 0M226.51 61.07a1.6 1.6 0 1 0 3.2 0a1.6 1.6 0 1 0 -3.2 0M233.11 59.99a1.6 1.6 0 1 0 3.2 0a1.6 1.6 0 1 0 -3.2 0M239.74 59.13a1.6 1.6 0 1 0 3.2 0a1.6 1.6 0 1 0 -3.2 0M246.4 58.48a1.6 1.6 0 1 0 3.2 0a1.6 1.6 0 1 0 -3.2 0M253.07 58.04a1.6 1.6 0 1 0 3.2 0a1.6 1.6 0 1 0 -3.2 0M259.76 57.83a1.6 1.6 0 1 0 3.2 0a1.6 1.6 0 1 0 -3.2 0M266.44 57.83a1.6 1.6 0 1 0 3.2 0a1.6 1.6 0 1 0 -3.2 0M273.13 58.04a1.6 1.6 0 1 0 3.2 0a1.6 1.6 0 1 0 -3.2 0M279.8 58.48a1.6 1.6 0 1 0 3.2 0a1.6 1.6 0 1 0 -3.2 0M286.46 59.13a1.6 1.6 0 1 0 3.2 0a1.6 1.6 0 1 0 -3.2 0M293.09 59.99a1.6 1.6 0 1 0 3.2 0a1.6 1.6 0 1 0 -3.2 0M299.69 61.07a1.6 1.6 0 1 0 3.2 0a1.6 1.6 0 1 0 -3.2 0M306.25 62.36a1.6 1.6 0 1 0 3.2 0a1.6 1.6 0 1 0 -3.2 0M312.77 63.86a1.6 1.6 0 1 0 3.2 0a1.6 1.6 0 1 0 -3.2 0M319.23 65.58a1.6 1.6 0 1 0 3.2 0a1.6 1.6 0 1 0 -3.2 0M325.64 67.5a1.6 1.6 0 1 0 3.2 0a1.6 1.6 0 1 0 -3.2 0M331.98 69.63a1.6 1.6 0 1 0 3.2 0a1.6 1.6 0 1 0 -3.2 0M338.25 71.96a1.6 1.6 0 1 0 3.2 0a1.6 1.6 0 1 0 -3.2 0M344.44 74.49a1.6 1.6 0 1 0 3.2 0a1.6 1.6 0 1 0 -3.2 0M350.54 77.23a1.6 1.6 0 1 0 3.2 0a1.6 1.6 0 1 0 -3.2 0M356.55 80.16a1.6 1.6 0 1 0 3.2 0a1.6 1.6 0 1 0 -3.2 0M362.46 83.28a1.6 1.6 0 1 0 3.2 0a1.6 1.6 0 1 0 -3.2 0M368.27 86.59a1.6 1.6 0 1 0 3.2 0a1.6 1.6 0 1 0 -3.2 0M373.97 90.09a1.6 1.6 0 1 0 3.2 0a1.6 1.6 0 1 0 -3.2 0M379.56 93.77a1.6 1.6 0 1 0 3.2 0a1.6 1.6 0 1 0 -3.2 0M385.02 97.63a1.6 1.6 0 1 0 3.2 0a1.6 1.6 0 1 0 -3.2 0M390.35 101.67a1.6 1.6 0 1 0 3.2 0a1.6 1.6 0 1 0 -3.2 0M395.55 105.87a1.6 1.6 0 1 0 3.2 0a1.6 1.6 0 1 0 -3.2 0M400.61 110.25a1.6 1.6 0 1 0 3.2 0a1.6 1.6 0 1 0 -3.2 0M405.53 114.78a1.6 1.6 0 1 0 3.2 0a1.6 1.6 0 1 0 -3.2 0M410.3 119.47a1.6 1.6 0 1 0 3.2 0a1.6 1.6 0 1 0 -3.2 0M414.91 124.31a1.6 1.6 0 1 0 3.2 0a1.6 1.6 0 1 0 -3.2 0M419.36 129.3a1.6 1.6 0 1 0 3.2 0a1.6 1.6 0 1 0 -3.2 0M423.65 134.43a1.6 1.6 0 1 0 3.2 0a1.6 1.6 0 1 0 -3.2 0M427.77 139.7a1.6 1.6 0 1 0 3.2 0a1.6 1.6 0 1 0 -3.2 0M431.72 145.1a1.6 1.6 0 1 0 3.2 0a1.6 1.6 0 1 0 -3.2 0M435.49 150.62a1.6 1.6 0 1 0 3.2 0a1.6 1.6 0 1 0 -3.2 0M439.08 156.26a1.6 1.6 0 1 0 3.2 0a1.6 1.6 0 1 0 -3.2 0M442.49 162.02a1.6 1.6 0 1 0 3.2 0a1.6 1.6 0 1 0 -3.2 0M445.71 167.88a1.6 1.6 0 1 0 3.2 0a1.6 1.6 0 1 0 -3.2 0M448.73 173.84a1.6 1.6 0 1 0 3.2 0a1.6 1.6 0 1 0 -3.2 0M451.57 179.9a1.6 1.6 0 1 0 3.2 0a1.6 1.6 0 1 0 -3.2 0M454.2 186.05a1.6 1.6 0 1 0 3.2 0a1.6 1.6 0 1 0 -3.2 0M456.63 192.28a1.6 1.6 0 1 0 3.2 0a1.6 1.6 0 1 0 -3.2 0M458.86 198.58a1.6 1.6 0 1 0 3.2 0a1.6 1.6 0 1 0 -3.2 0M460.89 204.96a1.6 1.6 0 1 0 3.2 0a1.6 1.6 0 1 0 -3.2 0M462.71 211.39a1.6 1.6 0 1 0 3.2 0a1.6 1.6 0 1 0 -3.2 0M464.32 217.88a1.6 1.6 0 1 0 3.2 0a1.6 1.6 0 1 0 -3.2 0M465.71 224.42a1.6 1.6 0 1 0 3.2 0a1.6 1.6 0 1 0 -3.2 0M466.9 231.01a1.6 1.6 0 1 0 3.2 0a1.6 1.6 0 1 0 -3.2 0M467.87 237.62a1.6 1.6 0 1 0 3.2 0a1.6 1.6 0 1 0 -3.2 0M468.63 244.27a1.6 1.6 0 1 0 3.2 0a1.6 1.6 0 1 0 -3.2 0M469.17 250.93a1.6 1.6 0 1 0 3.2 0a1.6 1.6 0 1 0 -3.2 0M469.49 257.61a1.6 1.6 0 1 0 3.2 0a1.6 1.6 0 1 0 -3.2 0"/>
<g font-family="Liberation Sans, Arial, sans-serif" font-size="8.4" stroke-width="0.18">
<text dy="0.35em" fill="#333333" stroke="#333333" transform="translate(478.4 263.8) scale(1 1.05) rotate(0)">FvRAP</text>
<text dy="0.35em" fill="#e53443" stroke="#e53443" transform="translate(478.29 270.75) scale(1 1.05) rotate(1.77)">FaGST1</text>
<text dy="0.35em" fill="#e53443" stroke="#e53443" transform="translate(477.95 277.68) scale(1 1.05) rotate(3.54)">FaGST37</text>
<text dy="0.35em" fill="#e53443" stroke="#e53443" transform="translate(477.39 284.61) scale(1 1.05) rotate(5.3)">FaGST97</text>
<text dy="0.35em" fill="#333333" stroke="#333333" transform="translate(476.6 291.51) scale(1 1.05) rotate(7.07)">Riant2</text>
<text dy="0.35em" fill="#333333" stroke="#333333" transform="translate(475.59 298.38) scale(1 1.05) rotate(8.84)">MdGST</text>
<text dy="0.35em" fill="#333333" stroke="#333333" transform="translate(474.36 305.22) scale(1 1.05) rotate(10.62)">VvGST4</text>
<text dy="0.35em" fill="#333333" stroke="#333333" transform="translate(472.91 312.01) scale(1 1.05) rotate(12.39)">CsGST4</text>
<text dy="0.35em" fill="#333333" stroke="#333333" transform="translate(471.24 318.76) scale(1 1.05) rotate(14.17)">CkmGST3</text>
<text dy="0.35em" fill="#333333" stroke="#333333" transform="translate(469.35 325.44) scale(1 1.05) rotate(15.95)">phAN9</text>
<text dy="0.35em" fill="#333333" stroke="#333333" transform="translate(467.25 332.06) scale(1 1.05) rotate(17.73)">LcGST4</text>
<text dy="0.35em" fill="#333333" stroke="#333333" transform="translate(464.93 338.61) scale(1 1.05) rotate(19.52)">PfGST1</text>
<text dy="0.35em" fill="#333333" stroke="#333333" transform="translate(462.4 345.08) scale(1 1.05) rotate(21.3)">AtGSTF11</text>
<text dy="0.35em" fill="#333333" stroke="#333333" transform="translate(459.67 351.47) scale(1 1.05) rotate(23.1)">AtGSTF12-TT19</text>
<text dy="0.35em" fill="#333333" stroke="#333333" transform="translate(456.73 357.76) scale(1 1.05) rotate(24.9)">AtGSTF9</text>
<text dy="0.35em" fill="#333333" stroke="#333333" transform="translate(453.58 363.96) scale(1 1.05) rotate(26.7)">AtGSTF10</text>
<text dy="0.35em" fill="#e53443" stroke="#e53443" transform="translate(450.24 370.05) scale(1 1.05) rotate(28.5)">FaGST59</text>
<text dy="0.35em" fill="#e53443" stroke="#e53443" transform="translate(446.7 376.02) scale(1 1.05) rotate(30.31)">FaGST25</text>
<text dy="0.35em" fill="#e53443" stroke="#e53443" transform="translate(442.97 381.88) scale(1 1.05) rotate(32.13)">FaGST60</text>
<text dy="0.35em" fill="#e53443" stroke="#e53443" transform="translate(439.05 387.62) scale(1 1.05) rotate(33.95)">FaGST92</text>
<text dy="0.35em" fill="#e53443" stroke="#e53443" transform="translate(434.95 393.23) scale(1 1.05) rotate(35.78)">FaGST122</text>
<text dy="0.35em" fill="#e53443" stroke="#e53443" transform="translate(430.67 398.7) scale(1 1.05) rotate(37.61)">FaGST107</text>
<text dy="0.35em" fill="#333333" stroke="#333333" transform="translate(426.21 404.03) scale(1 1.05) rotate(39.45)">AtGSTF5</text>
<text dy="0.35em" fill="#333333" stroke="#333333" transform="translate(421.59 409.21) scale(1 1.05) rotate(41.29)">AtGSTF4</text>
<text dy="0.35em" fill="#333333" stroke="#333333" transform="translate(416.8 414.24) scale(1 1.05) rotate(43.14)">AtGSTF6</text>
<text dy="0.35em" fill="#e53443" stroke="#e53443" transform="translate(411.85 419.11) scale(1 1.05) rotate(44.99)">FaGST39</text>
<text dy="0.35em" fill="#333333" stroke="#333333" transform="translate(406.74 423.82) scale(1 1.05) rotate(46.86)">AtGSTF8</text>
<text dy="0.35em" fill="#333333" stroke="#333333" transform="translate(401.48 428.36) scale(1 1.05) rotate(48.72)">AtGSTF7</text>
<text dy="0.35em" fill="#333333" stroke="#333333" transform="translate(396.08 432.73) scale(1 1.05) rotate(50.59)">AtGSTF3</text>
<text dy="0.35em" fill="#333333" stroke="#333333" transform="translate(390.54 436.92) scale(1 1.05) rotate(52.47)">AtGSTF2</text>
<text dy="0.35em" fill="#333333" stroke="#333333" transform="translate(384.87 440.93) scale(1 1.05) rotate(54.36)">AtGSTF13</text>
<text dy="0.35em" fill="#e53443" stroke="#e53443" transform="translate(379.07 444.76) scale(1 1.05) rotate(56.25)">FaGST23</text>
<text dy="0.35em" fill="#e53443" stroke="#e53443" transform="translate(373.15 448.39) scale(1 1.05) rotate(58.14)">FaGST73</text>
<text dy="0.35em" fill="#e53443" stroke="#e53443" transform="translate(367.11 451.83) scale(1 1.05) rotate(60.04)">FaGST55</text>
<text dy="0.35em" fill="#e53443" stroke="#e53443" transform="translate(360.97 455.08) scale(1 1.05) rotate(61.95)">FaGST86</text>
<text dy="0.35em" fill="#e53443" stroke="#e53443" transform="translate(354.73 458.12) scale(1 1.05) rotate(63.86)">FaGST17</text>
<text dy="0.35em" fill="#e53443" stroke="#e53443" transform="translate(348.39 460.96) scale(1 1.05) rotate(65.78)">FaGST120</text>
<text dy="0.35em" fill="#e53443" stroke="#e53443" transform="translate(341.96 463.59) scale(1 1.05) rotate(67.7)">FaGST56</text>
<text dy="0.35em" fill="#333333" stroke="#333333" transform="translate(335.45 466.02) scale(1 1.05) rotate(69.62)">AtGSTF14</text>
<text dy="0.35em" fill="#e53443" stroke="#e53443" transform="translate(328.86 468.23) scale(1 1.05) rotate(71.55)">FaGST91</text>
<text dy="0.35em" fill="#e53443" stroke="#e53443" transform="translate(322.21 470.22) scale(1 1.05) rotate(73.48)">FaGST115</text>
<text dy="0.35em" fill="#e53443" stroke="#e53443" transform="translate(315.49 472) scale(1 1.05) rotate(75.42)">FaGST18</text>
<text dy="0.35em" fill="#e53443" stroke="#e53443" transform="translate(308.72 473.56) scale(1 1.05) rotate(77.35)">FaGST151</text>
<text dy="0.35em" fill="#e53443" stroke="#e53443" transform="translate(301.91 474.91) scale(1 1.05) rotate(79.3)">FaGST72</text>
<text dy="0.35em" fill="#e53443" stroke="#e53443" transform="translate(295.05 476.03) scale(1 1.05) rotate(81.24)">FaGST104</text>
<text dy="0.35em" fill="#e53443" stroke="#e53443" transform="translate(288.16 476.92) scale(1 1.05) rotate(83.18)">FaGST105</text>
<text dy="0.35em" fill="#e53443" stroke="#e53443" transform="translate(281.25 477.6) scale(1 1.05) rotate(85.13)">FaGST38</text>
<text dy="0.35em" fill="#333333" stroke="#333333" transform="translate(274.32 478.05) scale(1 1.05) rotate(87.08)">AtGST-TCHQD</text>
<text dy="0.35em" fill="#e53443" stroke="#e53443" transform="translate(267.37 478.27) scale(1 1.05) rotate(89.03)">FaGST2</text>
<text dy="0.35em" fill="#e53443" stroke="#e53443" text-anchor="end" transform="translate(260.43 478.27) scale(1 1.05) rotate(-89.03)">FaGST99</text>
<text dy="0.35em" fill="#333333" stroke="#333333" text-anchor="end" transform="translate(253.48 478.05) scale(1 1.05) rotate(-87.08)">AtDHAR3</text>
<text dy="0.35em" fill="#333333" stroke="#333333" text-anchor="end" transform="translate(246.55 477.6) scale(1 1.05) rotate(-85.13)">AtDHAR1</text>
<text dy="0.35em" fill="#333333" stroke="#333333" text-anchor="end" transform="translate(239.64 476.92) scale(1 1.05) rotate(-83.18)">AtDHAR2</text>
<text dy="0.35em" fill="#e53443" stroke="#e53443" text-anchor="end" transform="translate(232.75 476.03) scale(1 1.05) rotate(-81.24)">FaGST34</text>
<text dy="0.35em" fill="#e53443" stroke="#e53443" text-anchor="end" transform="translate(225.89 474.91) scale(1 1.05) rotate(-79.3)">FaGST95</text>
<text dy="0.35em" fill="#e53443" stroke="#e53443" text-anchor="end" transform="translate(219.08 473.56) scale(1 1.05) rotate(-77.35)">FaGST67</text>
<text dy="0.35em" fill="#e53443" stroke="#e53443" text-anchor="end" transform="translate(212.31 472) scale(1 1.05) rotate(-75.42)">FaGST128</text>
<text dy="0.35em" fill="#e53443" stroke="#e53443" text-anchor="end" transform="translate(205.59 470.22) scale(1 1.05) rotate(-73.48)">FaGST70</text>
<text dy="0.35em" fill="#e53443" stroke="#e53443" text-anchor="end" transform="translate(198.94 468.23) scale(1 1.05) rotate(-71.55)">FaGST11</text>
<text dy="0.35em" fill="#e53443" stroke="#e53443" text-anchor="end" transform="translate(192.35 466.02) scale(1 1.05) rotate(-69.62)">FaGST69</text>
<text dy="0.35em" fill="#e53443" stroke="#e53443" text-anchor="end" transform="translate(185.84 463.59) scale(1 1.05) rotate(-67.7)">FaGST32</text>
<text dy="0.35em" fill="#e53443" stroke="#e53443" text-anchor="end" transform="translate(179.41 460.96) scale(1 1.05) rotate(-65.78)">FaGST85</text>
<text dy="0.35em" fill="#e53443" stroke="#e53443" text-anchor="end" transform="translate(173.07 458.12) scale(1 1.05) rotate(-63.86)">FaGST121</text>
<text dy="0.35em" fill="#e53443" stroke="#e53443" text-anchor="end" transform="translate(166.83 455.08) scale(1 1.05) rotate(-61.95)">FaGST123</text>
<text dy="0.35em" fill="#333333" stroke="#333333" text-anchor="end" transform="translate(160.69 451.83) scale(1 1.05) rotate(-60.04)">AtGSTZ2</text>
<text dy="0.35em" fill="#333333" stroke="#333333" text-anchor="end" transform="translate(154.65 448.39) scale(1 1.05) rotate(-58.14)">AtGSTZ1</text>
<text dy="0.35em" fill="#e53443" stroke="#e53443" text-anchor="end" transform="translate(148.73 444.76) scale(1 1.05) rotate(-56.25)">FaGST64</text>
<text dy="0.35em" fill="#e53443" stroke="#e53443" text-anchor="end" transform="translate(142.93 440.93) scale(1 1.05) rotate(-54.36)">FaGST3</text>
<text dy="0.35em" fill="#e53443" stroke="#e53443" text-anchor="end" transform="translate(137.26 436.92) scale(1 1.05) rotate(-52.47)">FaGST96</text>
<text dy="0.35em" fill="#e53443" stroke="#e53443" text-anchor="end" transform="translate(131.72 432.73) scale(1 1.05) rotate(-50.59)">FaGST10</text>
<text dy="0.35em" fill="#e53443" stroke="#e53443" text-anchor="end" transform="translate(126.32 428.36) scale(1 1.05) rotate(-48.72)">FaGST129</text>
<text dy="0.35em" fill="#e53443" stroke="#e53443" text-anchor="end" transform="translate(121.06 423.82) scale(1 1.05) rotate(-46.86)">FaGST145</text>
<text dy="0.35em" fill="#e53443" stroke="#e53443" text-anchor="end" transform="translate(115.95 419.11) scale(1 1.05) rotate(-44.99)">FaGST82</text>
<text dy="0.35em" fill="#e53443" stroke="#e53443" text-anchor="end" transform="translate(111 414.24) scale(1 1.05) rotate(-43.14)">FaGST14</text>
<text dy="0.35em" fill="#e53443" stroke="#e53443" text-anchor="end" transform="translate(106.21 409.21) scale(1 1.05) rotate(-41.29)">FaGST103</text>
<text dy="0.35em" fill="#e53443" stroke="#e53443" text-anchor="end" transform="translate(101.59 404.03) scale(1 1.05) rotate(-39.45)">FaGST74</text>
<text dy="0.35em" fill="#e53443" stroke="#e53443" text-anchor="end" transform="translate(97.13 398.7) scale(1 1.05) rotate(-37.61)">FaGST40</text>
<text dy="0.35em" fill="#333333" stroke="#333333" text-anchor="end" transform="translate(92.85 393.23) scale(1 1.05) rotate(-35.78)">AtGHR1</text>
<text dy="0.35em" fill="#e53443" stroke="#e53443" text-anchor="end" transform="translate(88.75 387.62) scale(1 1.05) rotate(-33.95)">FaGST26</text>
<text dy="0.35em" fill="#333333" stroke="#333333" text-anchor="end" transform="translate(84.83 381.88) scale(1 1.05) rotate(-32.13)">AtGHR3</text>
<text dy="0.35em" fill="#e53443" stroke="#e53443" text-anchor="end" transform="translate(81.1 376.02) scale(1 1.05) rotate(-30.31)">FaGST75</text>
<text dy="0.35em" fill="#333333" stroke="#333333" text-anchor="end" transform="translate(77.56 370.05) scale(1 1.05) rotate(-28.5)">AtGHR2</text>
<text dy="0.35em" fill="#333333" stroke="#333333" text-anchor="end" transform="translate(74.22 363.96) scale(1 1.05) rotate(-26.7)">AtGHR4</text>
<text dy="0.35em" fill="#e53443" stroke="#e53443" text-anchor="end" transform="translate(71.07 357.76) scale(1 1.05) rotate(-24.9)">FaGST36</text>
<text dy="0.35em" fill="#e53443" stroke="#e53443" text-anchor="end" transform="translate(68.13 351.47) scale(1 1.05) rotate(-23.1)">FaGST57</text>
<text dy="0.35em" fill="#e53443" stroke="#e53443" text-anchor="end" transform="translate(65.4 345.08) scale(1 1.05) rotate(-21.3)">FaGST58</text>
<text dy="0.35em" fill="#333333" stroke="#333333" text-anchor="end" transform="translate(62.87 338.61) scale(1 1.05) rotate(-19.52)">AtGSTL3</text>
<text dy="0.35em" fill="#333333" stroke="#333333" text-anchor="end" transform="translate(60.55 332.06) scale(1 1.05) rotate(-17.73)">AtGSTL1</text>
<text dy="0.35em" fill="#333333" stroke="#333333" text-anchor="end" transform="translate(58.45 325.44) scale(1 1.05) rotate(-15.95)">AtGSTL2</text>
<text dy="0.35em" fill="#e53443" stroke="#e53443" text-anchor="end" transform="translate(56.56 318.76) scale(1 1.05) rotate(-14.17)">FaGST124</text>
<text dy="0.35em" fill="#e53443" stroke="#e53443" text-anchor="end" transform="translate(54.89 312.01) scale(1 1.05) rotate(-12.39)">FaGST126</text>
<text dy="0.35em" fill="#e53443" stroke="#e53443" text-anchor="end" transform="translate(53.44 305.22) scale(1 1.05) rotate(-10.62)">FaGST93</text>
<text dy="0.35em" fill="#e53443" stroke="#e53443" text-anchor="end" transform="translate(52.21 298.38) scale(1 1.05) rotate(-8.84)">FaGST71</text>
<text dy="0.35em" fill="#e53443" stroke="#e53443" text-anchor="end" transform="translate(51.2 291.51) scale(1 1.05) rotate(-7.07)">FaGST94</text>
<text dy="0.35em" fill="#e53443" stroke="#e53443" text-anchor="end" transform="translate(50.41 284.61) scale(1 1.05) rotate(-5.3)">FaGST35</text>
<text dy="0.35em" fill="#e53443" stroke="#e53443" text-anchor="end" transform="translate(49.85 277.68) scale(1 1.05) rotate(-3.54)">FaGST68</text>
<text dy="0.35em" fill="#e53443" stroke="#e53443" text-anchor="end" transform="translate(49.51 270.75) scale(1 1.05) rotate(-1.77)">FaGST125</text>
<text dy="0.35em" fill="#e53443" stroke="#e53443" text-anchor="end" transform="translate(49.4 263.8) scale(1 1.05) rotate(0)">FaGST127</text>
<text dy="0.35em" fill="#e53443" stroke="#e53443" text-anchor="end" transform="translate(49.51 256.85) scale(1 1.05) rotate(1.77)">FaGST119</text>
<text dy="0.35em" fill="#e53443" stroke="#e53443" text-anchor="end" transform="translate(49.85 249.92) scale(1 1.05) rotate(3.54)">FaGST54</text>
<text dy="0.35em" fill="#e53443" stroke="#e53443" text-anchor="end" transform="translate(50.41 242.99) scale(1 1.05) rotate(5.3)">FaGST53</text>
<text dy="0.35em" fill="#e53443" stroke="#e53443" text-anchor="end" transform="translate(51.2 236.09) scale(1 1.05) rotate(7.07)">FaGST84</text>
<text dy="0.35em" fill="#e53443" stroke="#e53443" text-anchor="end" transform="translate(52.21 229.22) scale(1 1.05) rotate(8.84)">FaGST27</text>
<text dy="0.35em" fill="#e53443" stroke="#e53443" text-anchor="end" transform="translate(53.44 222.38) scale(1 1.05) rotate(10.62)">FaGST16</text>
<text dy="0.35em" fill="#e53443" stroke="#e53443" text-anchor="end" transform="translate(54.89 215.59) scale(1 1.05) rotate(12.39)">FaGST106</text>
<text dy="0.35em" fill="#e53443" stroke="#e53443" text-anchor="end" transform="translate(56.56 208.84) scale(1 1.05) rotate(14.17)">FaGST87</text>
<text dy="0.35em" fill="#e53443" stroke="#e53443" text-anchor="end" transform="translate(58.45 202.16) scale(1 1.05) rotate(15.95)">FaGST22</text>
<text dy="0.35em" fill="#e53443" stroke="#e53443" text-anchor="end" transform="translate(60.55 195.54) scale(1 1.05) rotate(17.73)">FaGST12</text>
<text dy="0.35em" fill="#e53443" stroke="#e53443" text-anchor="end" transform="translate(62.87 188.99) scale(1 1.05) rotate(19.52)">FaGST113</text>
<text dy="0.35em" fill="#e53443" stroke="#e53443" text-anchor="end" transform="translate(65.4 182.52) scale(1 1.05) rotate(21.3)">FaGST49</text>
<text dy="0.35em" fill="#e53443" stroke="#e53443" text-anchor="end" transform="translate(68.13 176.13) scale(1 1.05) rotate(23.1)">FaGST80</text>
<text dy="0.35em" fill="#e53443" stroke="#e53443" text-anchor="end" transform="translate(71.07 169.84) scale(1 1.05) rotate(24.9)">FaGST48</text>
<text dy="0.35em" fill="#333333" stroke="#333333" text-anchor="end" transform="translate(74.22 163.64) scale(1 1.05) rotate(26.7)">AtGSTU18</text>
<text dy="0.35em" fill="#333333" stroke="#333333" text-anchor="end" transform="translate(77.56 157.55) scale(1 1.05) rotate(28.5)">AtGSTU17</text>
<text dy="0.35em" fill="#333333" stroke="#333333" text-anchor="end" transform="translate(81.1 151.58) scale(1 1.05) rotate(30.31)">AtGSTU11</text>
<text dy="0.35em" fill="#333333" stroke="#333333" text-anchor="end" transform="translate(84.83 145.72) scale(1 1.05) rotate(32.13)">AtGSTU12</text>
<text dy="0.35em" fill="#333333" stroke="#333333" text-anchor="end" transform="translate(88.75 139.98) scale(1 1.05) rotate(33.95)">AtGSTU13</text>
<text dy="0.35em" fill="#333333" stroke="#333333" text-anchor="end" transform="translate(92.85 134.37) scale(1 1.05) rotate(35.78)">AtGSTU14</text>
<text dy="0.35em" fill="#333333" stroke="#333333" text-anchor="end" transform="translate(97.13 128.9) scale(1 1.05) rotate(37.61)">AtGSTU15</text>
<text dy="0.35em" fill="#333333" stroke="#333333" text-anchor="end" transform="translate(101.59 123.57) scale(1 1.05) rotate(39.45)">AtGSTU16</text>
<text dy="0.35em" fill="#333333" stroke="#333333" text-anchor="end" transform="translate(106.21 118.39) scale(1 1.05) rotate(41.29)">ZmBZ2</text>
<text dy="0.35em" fill="#e53443" stroke="#e53443" text-anchor="end" transform="translate(111 113.36) scale(1 1.05) rotate(43.14)">FaGST77</text>
<text dy="0.35em" fill="#e53443" stroke="#e53443" text-anchor="end" transform="translate(115.95 108.49) scale(1 1.05) rotate(44.99)">FaGST46</text>
<text dy="0.35em" fill="#e53443" stroke="#e53443" text-anchor="end" transform="translate(121.06 103.78) scale(1 1.05) rotate(46.86)">FaGST111</text>
<text dy="0.35em" fill="#e53443" stroke="#e53443" text-anchor="end" transform="translate(126.32 99.24) scale(1 1.05) rotate(48.72)">FaGST131</text>
<text dy="0.35em" fill="#e53443" stroke="#e53443" text-anchor="end" transform="translate(131.72 94.87) scale(1 1.05) rotate(50.59)">FaGST33</text>
<text dy="0.35em" fill="#e53443" stroke="#e53443" text-anchor="end" transform="translate(137.26 90.68) scale(1 1.05) rotate(52.47)">FaGST112</text>
<text dy="0.35em" fill="#e53443" stroke="#e53443" text-anchor="end" transform="translate(142.93 86.67) scale(1 1.05) rotate(54.36)">FaGST76</text>
<text dy="0.35em" fill="#e53443" stroke="#e53443" text-anchor="end" transform="translate(148.73 82.84) scale(1 1.05) rotate(56.25)">FaGST78</text>
<text dy="0.35em" fill="#e53443" stroke="#e53443" text-anchor="end" transform="translate(154.65 79.21) scale(1 1.05) rotate(58.14)">FaGST47</text>
<text dy="0.35em" fill="#e53443" stroke="#e53443" text-anchor="end" transform="translate(160.69 75.77) scale(1 1.05) rotate(60.04)">FaGST14</text>
<text dy="0.35em" fill="#e53443" stroke="#e53443" text-anchor="end" transform="translate(166.83 72.52) scale(1 1.05) rotate(61.95)">FaGST110</text>
<text dy="0.35em" fill="#333333" stroke="#333333" text-anchor="end" transform="translate(173.07 69.48) scale(1 1.05) rotate(63.86)">AtGSTU28</text>
<text dy="0.35em" fill="#333333" stroke="#333333" text-anchor="end" transform="translate(179.41 66.64) scale(1 1.05) rotate(65.78)">AtGSTU24</text>
<text dy="0.35em" fill="#333333" stroke="#333333" text-anchor="end" transform="translate(185.84 64.01) scale(1 1.05) rotate(67.7)">AtGSTU26</text>
<text dy="0.35em" fill="#333333" stroke="#333333" text-anchor="end" transform="translate(192.35 61.58) scale(1 1.05) rotate(69.62)">AtGSTU25</text>
<text dy="0.35em" fill="#333333" stroke="#333333" text-anchor="end" transform="translate(198.94 59.37) scale(1 1.05) rotate(71.55)">AtGSTU23</text>
<text dy="0.35em" fill="#333333" stroke="#333333" text-anchor="end" transform="translate(205.59 57.38) scale(1 1.05) rotate(73.48)">AtGSTU21</text>
<text dy="0.35em" fill="#333333" stroke="#333333" text-anchor="end" transform="translate(212.31 55.6) scale(1 1.05) rotate(75.42)">AtGSTU19</text>
<text dy="0.35em" fill="#333333" stroke="#333333" text-anchor="end" transform="translate(219.08 54.04) scale(1 1.05) rotate(77.35)">AtGSTU22</text>
<text dy="0.35em" fill="#333333" stroke="#333333" text-anchor="end" transform="translate(225.89 52.69) scale(1 1.05) rotate(79.3)">AtGSTU20</text>
<text dy="0.35em" fill="#333333" stroke="#333333" text-anchor="end" transform="translate(232.75 51.57) scale(1 1.05) rotate(81.24)">AtGSTU27</text>
<text dy="0.35em" fill="#e53443" stroke="#e53443" text-anchor="end" transform="translate(239.64 50.68) scale(1 1.05) rotate(83.18)">FaGST98</text>
<text dy="0.35em" fill="#e53443" stroke="#e53443" text-anchor="end" transform="translate(246.55 50) scale(1 1.05) rotate(85.13)">FaGST79</text>
<text dy="0.35em" fill="#e53443" stroke="#e53443" text-anchor="end" transform="translate(253.48 49.55) scale(1 1.05) rotate(87.08)">FaGST13</text>
<text dy="0.35em" fill="#e53443" stroke="#e53443" text-anchor="end" transform="translate(260.43 49.33) scale(1 1.05) rotate(89.03)">FaGST109</text>
<text dy="0.35em" fill="#e53443" stroke="#e53443" transform="translate(267.37 49.33) scale(1 1.05) rotate(-89.03)">FaGST89</text>
<text dy="0.35em" fill="#e53443" stroke="#e53443" transform="translate(274.32 49.55) scale(1 1.05) rotate(-87.08)">FaGST30</text>
<text dy="0.35em" fill="#e53443" stroke="#e53443" transform="translate(281.25 50) scale(1 1.05) rotate(-85.13)">FaGST118</text>
<text dy="0.35em" fill="#e53443" stroke="#e53443" transform="translate(288.16 50.68) scale(1 1.05) rotate(-83.18)">FaGST88</text>
<text dy="0.35em" fill="#e53443" stroke="#e53443" transform="translate(295.05 51.57) scale(1 1.05) rotate(-81.24)">FaGST52</text>
<text dy="0.35em" fill="#e53443" stroke="#e53443" transform="translate(301.91 52.69) scale(1 1.05) rotate(-79.3)">FaGST20</text>
<text dy="0.35em" fill="#333333" stroke="#333333" transform="translate(308.72 54.04) scale(1 1.05) rotate(-77.35)">AtGSTU9</text>
<text dy="0.35em" fill="#e53443" stroke="#e53443" transform="translate(315.49 55.6) scale(1 1.05) rotate(-75.42)">FaGST90</text>
<text dy="0.35em" fill="#e53443" stroke="#e53443" transform="translate(322.21 57.38) scale(1 1.05) rotate(-73.48)">FaGST21</text>
<text dy="0.35em" fill="#e53443" stroke="#e53443" transform="translate(328.86 59.37) scale(1 1.05) rotate(-71.55)">FaGST117</text>
<text dy="0.35em" fill="#333333" stroke="#333333" transform="translate(335.45 61.58) scale(1 1.05) rotate(-69.62)">AtGSTU10</text>
<text dy="0.35em" fill="#e53443" stroke="#e53443" transform="translate(341.96 64.01) scale(1 1.05) rotate(-67.7)">FaGST19</text>
<text dy="0.35em" fill="#e53443" stroke="#e53443" transform="translate(348.39 66.64) scale(1 1.05) rotate(-65.78)">FaGST116</text>
<text dy="0.35em" fill="#333333" stroke="#333333" transform="translate(354.73 69.48) scale(1 1.05) rotate(-63.86)">AtGSTU8</text>
<text dy="0.35em" fill="#333333" stroke="#333333" transform="translate(360.97 72.52) scale(1 1.05) rotate(-61.95)">AtGSTU7</text>
<text dy="0.35em" fill="#333333" stroke="#333333" transform="translate(367.11 75.77) scale(1 1.05) rotate(-60.04)">AtGSTU6</text>
<text dy="0.35em" fill="#333333" stroke="#333333" transform="translate(373.15 79.21) scale(1 1.05) rotate(-58.14)">AtGSTU5</text>
<text dy="0.35em" fill="#333333" stroke="#333333" transform="translate(379.07 82.84) scale(1 1.05) rotate(-56.25)">AtGSTU4</text>
<text dy="0.35em" fill="#333333" stroke="#333333" transform="translate(384.87 86.67) scale(1 1.05) rotate(-54.36)">AtGSTU3</text>
<text dy="0.35em" fill="#333333" stroke="#333333" transform="translate(390.54 90.68) scale(1 1.05) rotate(-52.47)">AtGSTU2</text>
<text dy="0.35em" fill="#333333" stroke="#333333" transform="translate(396.08 94.87) scale(1 1.05) rotate(-50.59)">AtGSTU1</text>
<text dy="0.35em" fill="#e53443" stroke="#e53443" transform="translate(401.48 99.24) scale(1 1.05) rotate(-48.72)">FaGST83</text>
<text dy="0.35em" fill="#e53443" stroke="#e53443" transform="translate(406.74 103.78) scale(1 1.05) rotate(-46.86)">FaGST61</text>
<text dy="0.35em" fill="#e53443" stroke="#e53443" transform="translate(411.85 108.49) scale(1 1.05) rotate(-44.99)">FaGST114</text>
<text dy="0.35em" fill="#e53443" stroke="#e53443" transform="translate(416.8 113.36) scale(1 1.05) rotate(-43.14)">FaGST50</text>
<text dy="0.35em" fill="#e53443" stroke="#e53443" transform="translate(421.59 118.39) scale(1 1.05) rotate(-41.29)">FaGST130</text>
<text dy="0.35em" fill="#e53443" stroke="#e53443" transform="translate(426.21 123.57) scale(1 1.05) rotate(-39.45)">FaGST62</text>
<text dy="0.35em" fill="#e53443" stroke="#e53443" transform="translate(430.67 128.9) scale(1 1.05) rotate(-37.61)">FaGST28</text>
<text dy="0.35em" fill="#e53443" stroke="#e53443" transform="translate(434.95 134.37) scale(1 1.05) rotate(-35.78)">FaGST108</text>
<text dy="0.35em" fill="#e53443" stroke="#e53443" transform="translate(439.05 139.98) scale(1 1.05) rotate(-33.95)">FaGST82</text>
<text dy="0.35em" fill="#e53443" stroke="#e53443" transform="translate(442.97 145.72) scale(1 1.05) rotate(-32.13)">FaGST81</text>
<text dy="0.35em" fill="#e53443" stroke="#e53443" transform="translate(446.7 151.58) scale(1 1.05) rotate(-30.31)">FaGST8</text>
<text dy="0.35em" fill="#e53443" stroke="#e53443" transform="translate(450.24 157.55) scale(1 1.05) rotate(-28.5)">FaGST100</text>
<text dy="0.35em" fill="#e53443" stroke="#e53443" transform="translate(453.58 163.64) scale(1 1.05) rotate(-26.7)">FaGST42</text>
<text dy="0.35em" fill="#e53443" stroke="#e53443" transform="translate(456.73 169.84) scale(1 1.05) rotate(-24.9)">FaGST6</text>
<text dy="0.35em" fill="#e53443" stroke="#e53443" transform="translate(459.67 176.13) scale(1 1.05) rotate(-23.1)">FaGST5</text>
<text dy="0.35em" fill="#e53443" stroke="#e53443" transform="translate(462.4 182.52) scale(1 1.05) rotate(-21.3)">FaGST43</text>
<text dy="0.35em" fill="#e53443" stroke="#e53443" transform="translate(464.93 188.99) scale(1 1.05) rotate(-19.52)">FaGST101</text>
<text dy="0.35em" fill="#e53443" stroke="#e53443" transform="translate(467.25 195.54) scale(1 1.05) rotate(-17.73)">FaGST41</text>
<text dy="0.35em" fill="#e53443" stroke="#e53443" transform="translate(469.35 202.16) scale(1 1.05) rotate(-15.95)">FaGST7</text>
<text dy="0.35em" fill="#e53443" stroke="#e53443" transform="translate(471.24 208.84) scale(1 1.05) rotate(-14.17)">FaGST44</text>
<text dy="0.35em" fill="#e53443" stroke="#e53443" transform="translate(472.91 215.59) scale(1 1.05) rotate(-12.39)">FaGST4</text>
<text dy="0.35em" fill="#e53443" stroke="#e53443" transform="translate(474.36 222.38) scale(1 1.05) rotate(-10.62)">FaGST31</text>
<text dy="0.35em" fill="#e53443" stroke="#e53443" transform="translate(475.59 229.22) scale(1 1.05) rotate(-8.84)">FaGST102</text>
<text dy="0.35em" fill="#e53443" stroke="#e53443" transform="translate(476.6 236.09) scale(1 1.05) rotate(-7.07)">FaGST63</text>
<text dy="0.35em" fill="#e53443" stroke="#e53443" transform="translate(477.39 242.99) scale(1 1.05) rotate(-5.3)">FaGST65</text>
<text dy="0.35em" fill="#e53443" stroke="#e53443" transform="translate(477.95 249.92) scale(1 1.05) rotate(-3.54)">FaGST29</text>
<text dy="0.35em" fill="#e53443" stroke="#e53443" transform="translate(478.29 256.85) scale(1 1.05) rotate(-1.77)">FaGST9</text>
</g>
<line x1="476.5" y1="419.9" x2="496.9" y2="419.9" stroke="#666" stroke-width="1.2"/>
<text x="481.3" y="430.1" font-family="Liberation Sans, Arial, sans-serif" font-size="6.5" fill="#333">2.0</text>
<g font-family="Liberation Serif, Times New Roman, serif" font-weight="bold" font-size="12.1" fill="#111" stroke="#111" stroke-width="0.35">
<rect x="480.5" y="439.1" width="12" height="7" fill="#86e04a" stroke="none"/>
<text transform="translate(497.2 445.8) scale(1 1.1)" textLength="18.0" lengthAdjust="spacingAndGlyphs">Phi</text>
<rect x="480.5" y="452.2" width="12" height="7" fill="#f7cc94" stroke="none"/>
<text transform="translate(497.2 458.9) scale(1 1.1)" textLength="41.2" lengthAdjust="spacingAndGlyphs">TCHQD</text>
<rect x="480.5" y="464.4" width="12" height="7" fill="#f9c0f6" stroke="none"/>
<text transform="translate(497.2 471.1) scale(1 1.1)" textLength="26.0" lengthAdjust="spacingAndGlyphs">GHR</text>
<rect x="480.5" y="476.3" width="12" height="7" fill="#86aaf2" stroke="none"/>
<text transform="translate(497.2 483.0) scale(1 1.1)" textLength="22.0" lengthAdjust="spacingAndGlyphs">Zeta</text>
<rect x="480.5" y="488.4" width="12" height="7" fill="#1fd3d3" stroke="none"/>
<text transform="translate(497.2 495.1) scale(1 1.1)" textLength="45.6" lengthAdjust="spacingAndGlyphs">Lambda</text>
<rect x="480.5" y="500.0" width="12" height="7" fill="#cf98d6" stroke="none"/>
<text transform="translate(497.2 506.7) scale(1 1.1)" textLength="32.6" lengthAdjust="spacingAndGlyphs">DHAR</text>
<rect x="480.5" y="512.0" width="12" height="7" fill="#666666" stroke="none"/>
<text transform="translate(497.2 518.7) scale(1 1.1)" textLength="19.4" lengthAdjust="spacingAndGlyphs">Tau</text>
</g>
</svg>
</body></html>
